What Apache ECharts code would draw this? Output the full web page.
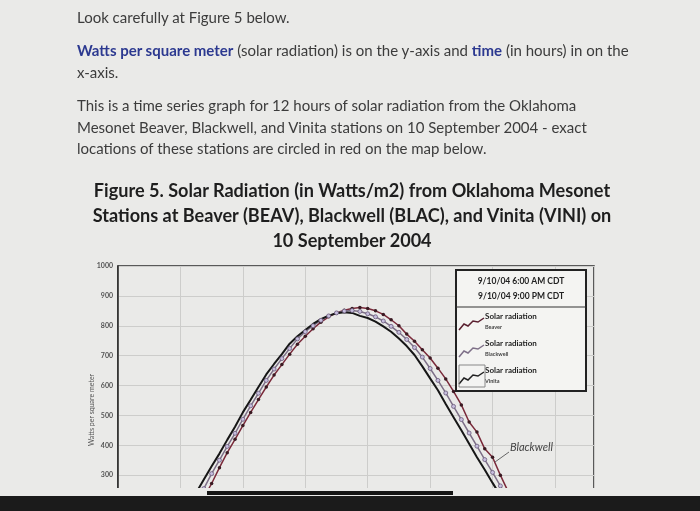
<!DOCTYPE html>
<html>
<head>
<meta charset="utf-8">
<script src="https://cdn.jsdelivr.net/npm/echarts@6/dist/echarts.min.js"></script>
<style>
  html, body { margin: 0; padding: 0; }
  body { width: 700px; height: 511px; background: #eaeae8; position: relative; overflow: hidden; font-family: Lato, "Open Sans", sans-serif; }
  #chart { position: absolute; left: 0; top: 0; width: 700px; height: 511px; }
  .ln { position: absolute; left: 77px; font-size: 15px; line-height: 20px; color: #3c3c3c; white-space: nowrap; }
  .ln b { color: #2c3990; }
  .tt { position: absolute; left: 0; width: 704px; text-align: center; font-size: 18.1px; line-height: 25px; font-weight: bold; color: #1e1e1e; white-space: nowrap; }
</style>
</head>
<body>
<div id="chart"></div>
<div class="ln" style="top:7px">Look carefully at Figure 5 below.</div>
<div class="ln" style="top:40px"><b>Watts per square meter</b> (solar radiation) is on the y-axis and <b>time</b> (in hours) in on the</div>
<div class="ln" style="top:62px">x-axis.</div>
<div class="ln" style="top:95px">This is a time series graph for 12 hours of solar radiation from the Oklahoma</div>
<div class="ln" style="top:117px">Mesonet Beaver, Blackwell, and Vinita stations on 10 September 2004 - exact</div>
<div class="ln" style="top:138px">locations of these stations are circled in red on the map below.</div>
<div class="tt" style="top:178px">Figure 5. Solar Radiation (in Watts/m2) from Oklahoma Mesonet</div>
<div class="tt" style="top:203px">Stations at Beaver (BEAV), Blackwell (BLAC), and Vinita (VINI) on</div>
<div class="tt" style="top:228px">10 September 2004</div>
<script>
// hours (CDT), 15 min steps
const times = [8.5, 8.75, 9, 9.25, 9.5, 9.75, 10, 10.25, 10.5, 10.75, 11, 11.25, 11.5, 11.75,
  12, 12.25, 12.5, 12.75, 13, 13.25, 13.5, 13.75, 14, 14.25, 14.5, 14.75, 15, 15.25, 15.5, 15.75,
  16, 16.25, 16.5, 16.75, 17, 17.25, 17.5, 17.75, 18, 18.25, 18.5];
const beaver = [180, 225, 272, 325, 375, 420, 466, 510, 553, 595, 635, 670, 705, 738,
  765, 790, 812, 830, 843, 852, 858, 861, 858, 850, 838, 820, 800, 772, 748, 720,
  692, 658, 622, 580, 535, 478, 444, 388, 360, 300, 245];
const blackwell = [210, 255, 305, 350, 396, 440, 487, 532, 574, 617, 655, 690, 724, 756,
  780, 800, 818, 833, 843, 849, 851, 848, 840, 830, 816, 798, 778, 754, 727, 695,
  657, 617, 575, 530, 486, 441, 397, 352, 309, 264, 222];
const vinita = [240, 285, 330, 372, 418, 462, 510, 552, 595, 637, 672, 705, 740, 765,
  786, 806, 822, 834, 842, 845, 843, 833, 826, 814, 798, 780, 757, 732, 702, 664,
  624, 584, 538, 494, 450, 405, 360, 318, 274, 232, 195];
const yTicks = [300, 400, 500, 600, 700, 800, 900, 1000];
const periodLabels = ['9/10/04 6:00 AM CDT', '9/10/04 9:00 PM CDT'];
const legendNames = ['Beaver', 'Blackwell', 'Vinita'];

const pairs = arr => times.map((t, i) => [t, arr[i]]);

const chart = echarts.init(document.getElementById('chart'));

const icon = (x, y, color) => ({
  type: 'polyline', z: 20,
  shape: { points: [[x, y + 12], [x + 5, y + 6], [x + 9, y + 8], [x + 14, y + 3], [x + 19, y + 4], [x + 25, y]] },
  style: { stroke: color, lineWidth: 1.5, fill: null }
});
const entry = (y, name, color) => [
  icon(459, y + 2, color),
  { type: 'text', z: 20, style: { x: 485, y: y, text: 'Solar radiation', font: 'bold 8px Lato', fill: '#222', verticalAlign: 'middle' } },
  { type: 'text', z: 20, style: { x: 485, y: y + 11, text: name, font: 'bold 5.5px Lato', fill: '#444', verticalAlign: 'middle' } }
];

chart.setOption({
  animation: false,
  grid: { left: 118, right: 106, top: 266, bottom: 6, show: true, borderColor: '#2a2a2a', borderWidth: 1.5 },
  xAxis: {
    type: 'value', min: 6, max: 21.25, interval: 2,
    axisLabel: { show: false }, axisTick: { show: false }, axisLine: { show: false },
    splitLine: { lineStyle: { color: '#cdcdcb', width: 1 } }
  },
  yAxis: {
    type: 'value', min: 200, max: 1000, interval: 100,
    axisLine: { show: true, lineStyle: { color: '#2a2a2a', width: 1.5 } },
    axisTick: { show: false },
    axisLabel: {
      fontSize: 7, fontWeight: 'bold', color: '#555', margin: 5, fontFamily: 'Lato',
      formatter: v => (yTicks.includes(v) ? String(v) : '')
    },
    splitLine: { lineStyle: { color: '#cdcdcb', width: 1 } }
  },
  series: [
    {
      name: 'Beaver', type: 'line', data: pairs(beaver),
      lineStyle: { color: '#7a2a3a', width: 1.5 },
      symbol: 'circle', symbolSize: 3.5,
      itemStyle: { color: '#3a1a22' }
    },
    {
      name: 'Blackwell', type: 'line', data: pairs(blackwell),
      lineStyle: { color: '#7e7088', width: 1.5 },
      symbol: 'circle', symbolSize: 4,
      itemStyle: { color: '#c6bddd', borderColor: '#6a5a7a', borderWidth: 0.8 }
    },
    {
      name: 'Vinita', type: 'line', data: pairs(vinita),
      lineStyle: { color: '#161616', width: 2 },
      symbol: 'none'
    }
  ],
  graphic: [
    { type: 'text', z: 10, rotation: Math.PI / 2, x: 92, y: 410,
      style: { text: 'Watts per square meter', font: '7px Lato', fill: '#555', align: 'center', verticalAlign: 'middle' } },
    // legend box
    { type: 'rect', z: 19, shape: { x: 456, y: 270, width: 130, height: 121 },
      style: { fill: '#f4f4f2', stroke: '#222', lineWidth: 2 } },
    { type: 'text', z: 20, style: { x: 521, y: 281, text: periodLabels[0], font: 'bold 8.5px Lato', fill: '#222', align: 'center', verticalAlign: 'middle' } },
    { type: 'text', z: 20, style: { x: 521, y: 296, text: periodLabels[1], font: 'bold 8.5px Lato', fill: '#222', align: 'center', verticalAlign: 'middle' } },
    { type: 'line', z: 20, shape: { x1: 456, y1: 307, x2: 586, y2: 307 }, style: { stroke: '#333', lineWidth: 1 } },
    ...entry(316, legendNames[0], '#5a2030'),
    ...entry(343, legendNames[1], '#7e7088'),
    ...entry(370, legendNames[2], '#222'),
    { type: 'rect', z: 20, shape: { x: 459, y: 365, width: 26, height: 22 }, style: { fill: null, stroke: '#888', lineWidth: 1 } },
    // annotation
    { type: 'text', z: 20, style: { x: 510, y: 447, text: 'Blackwell', font: 'italic 11px Lato', fill: '#444', verticalAlign: 'middle' } },
    { type: 'line', z: 20, shape: { x1: 509, y1: 452, x2: 495, y2: 462 }, style: { stroke: '#666', lineWidth: 1 } },
    // photo crop at the bottom
    { type: 'rect', z: 30, shape: { x: 0, y: 488, width: 700, height: 8 }, style: { fill: '#eaeae8' } },
    { type: 'rect', z: 31, shape: { x: 207, y: 491, width: 246, height: 4 }, style: { fill: '#151515' } },
    { type: 'rect', z: 31, shape: { x: 0, y: 496, width: 700, height: 15 }, style: { fill: '#1b1b1b' } }
  ]
});
</script>
</body>
</html>
